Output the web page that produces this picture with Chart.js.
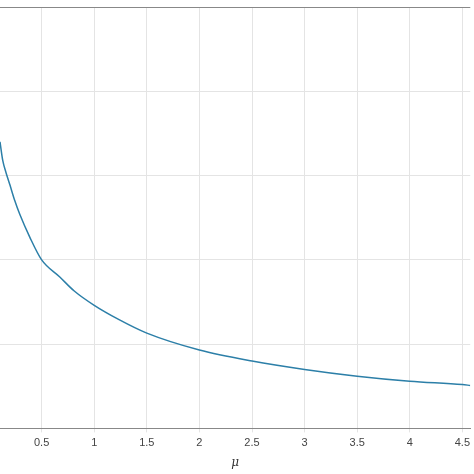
<!DOCTYPE html>
<html>
<head>
<meta charset="utf-8">
<script src="https://cdn.jsdelivr.net/npm/chart.js@4"></script>
<style>
  html, body { margin: 0; padding: 0; background: #fff; }
  #wrap { width: 474px; height: 474px; }
</style>
</head>
<body>
<div id="wrap"><canvas id="myChart"></canvas></div>
<script>
const muValues = [0.104, 0.13, 0.16, 0.198, 0.245, 0.292, 0.387, 0.5, 0.67, 0.81, 1, 1.236, 1.5, 2, 2.5, 3, 3.5, 4, 4.5, 4.575];
const curveValues = [3.4, 3.18, 3.04, 2.89, 2.7, 2.54, 2.27, 2.0, 1.8, 1.63, 1.46, 1.29, 1.13, 0.93, 0.8, 0.7, 0.62, 0.56, 0.52, 0.51];
const xTickLabels = [0.5, 1, 1.5, 2, 2.5, 3, 3.5, 4, 4.5];

const ctx = document.getElementById("myChart").getContext("2d");
new Chart(ctx, {
    type: "line",
    data: {
        datasets: [{
            data: muValues.map((x, i) => ({ x: x, y: curveValues[i] })),
            borderColor: "#2c7fa8",
            borderWidth: 1.5,
            pointRadius: 0,
            cubicInterpolationMode: "monotone",
            fill: false
        }]
    },
    options: {
        responsive: true,
        maintainAspectRatio: false,
        animation: false,
        layout: { padding: { top: 7, left: 0, right: 0, bottom: 0 } },
        plugins: { legend: { display: false }, tooltip: { enabled: false } },
        scales: {
            x: {
                type: "linear",
                min: 0.104,
                max: 4.575,
                afterBuildTicks: (axis) => { axis.ticks = xTickLabels.map(v => ({ value: v })); },
                ticks: {
                    color: "#444",
                    font: { family: "Liberation Sans", size: 11 },
                    maxRotation: 0,
                    padding: 4,
                    callback: (v) => String(v)
                },
                grid: { color: "#e4e4e4", tickLength: 4 },
                border: { color: "#888" },
                title: { display: true, text: "μ", color: "#333", font: { family: "DejaVu Serif", size: 12, style: "italic" }, padding: { top: 2, bottom: 4 } }
            },
            y: {
                min: 0,
                max: 5,
                ticks: { display: false, stepSize: 1 },
                grid: { color: "#e4e4e4", drawTicks: false },
                border: { display: false }
            }
        }
    },
    plugins: [{
        id: "topBorder",
        afterDraw(chart) {
            const a = chart.chartArea, c = chart.ctx;
            c.save();
            c.strokeStyle = "#888";
            c.lineWidth = 1;
            c.beginPath();
            c.moveTo(a.left, a.top + 0.5);
            c.lineTo(a.right, a.top + 0.5);
            c.stroke();
            c.restore();
        }
    }]
});
</script>
</body>
</html>
